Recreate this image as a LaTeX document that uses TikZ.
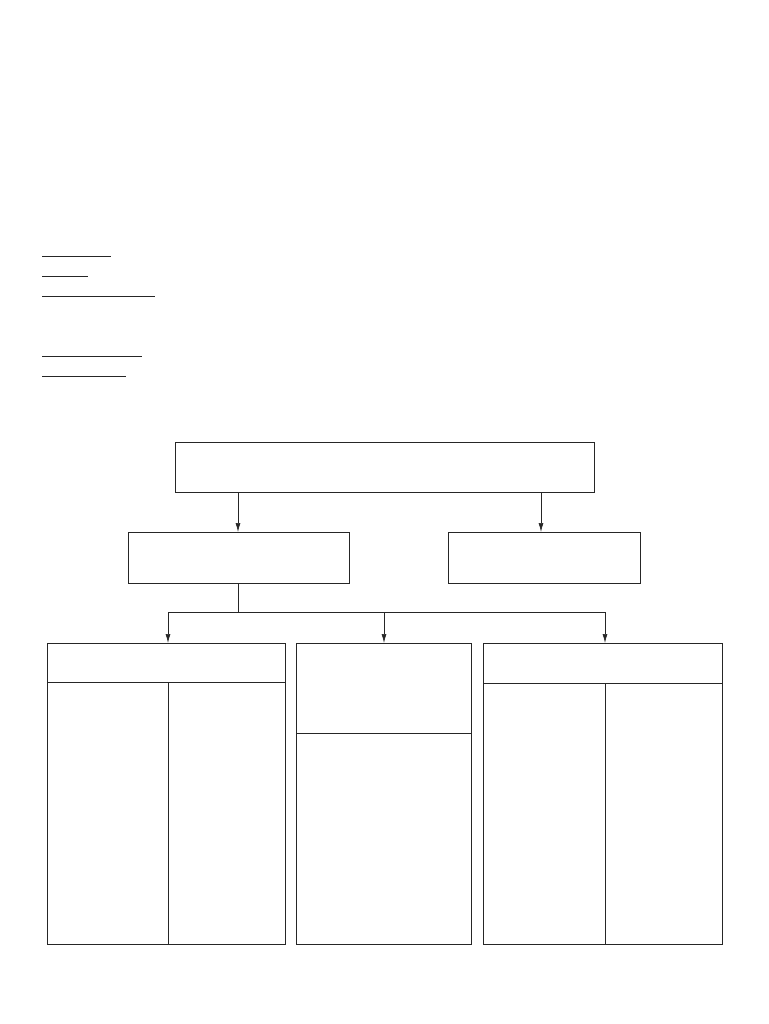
\documentclass[tikz,border=0pt]{standalone}
\usetikzlibrary{arrows.meta}
\begin{document}
\begin{tikzpicture}[x=1pt,y=-1pt,
  box/.style={draw=black!85,line width=0.9pt,inner sep=0pt,outer sep=0pt,rectangle},
  conn/.style={draw=black!85,line width=0.7pt},
  arr/.style={conn,-{Latex[length=9pt,width=5pt]}},
  blank/.style={draw=black!85,line width=0.9pt}]
\useasboundingbox (0,0) rectangle (768,1024);
\fill[white] (0,0) rectangle (768,1024);
% blank fields
\draw[blank] (42,256) -- (111,256);
\draw[blank] (42,276) -- (88,276);
\draw[blank] (42,296) -- (155,296);
\draw[blank] (42,356) -- (142,356);
\draw[blank] (42,376) -- (126,376);
% boxes
\node[box,minimum width=419pt,minimum height=50pt] (top) at (384.5,467) {};
\node[box,minimum width=221pt,minimum height=51pt] (ml) at (238.5,557.5) {};
\node[box,minimum width=192pt,minimum height=51pt] (mr) at (544,557.5) {};
\node[box,minimum width=238pt,minimum height=301pt] (bl) at (166,793.5) {};
\node[box,minimum width=175pt,minimum height=301pt] (bm) at (383.5,793.5) {};
\node[box,minimum width=239pt,minimum height=301pt] (br) at (602.5,793.5) {};
% dividers
\coordinate (blh1) at (47,682); \coordinate (blh2) at (285,682);
\draw[box] (blh1) -- (blh2);
\coordinate (blv) at (168,682);
\draw[conn] (blv) -- (blv |- bl.south);
\coordinate (bmh1) at (296,733); \coordinate (bmh2) at (471,733);
\draw[box] (bmh1) -- (bmh2);
\coordinate (brh1) at (483,683); \coordinate (brh2) at (722,683);
\draw[box] (brh1) -- (brh2);
\coordinate (brv) at (605,683);
\draw[conn] (brv) -- (brv |- br.south);
% connectors
\coordinate (t1) at (238,492);
\coordinate (t2) at (541,492);
\draw[arr] (t1) -- (t1 |- ml.north);
\draw[arr] (t2) -- (t2 |- mr.north);
\coordinate (j) at (238,612);
\coordinate (jl) at (168,612);
\coordinate (jm) at (384,612);
\coordinate (jr) at (605,612);
\draw[conn] (ml.south -| j) -- (j);
\draw[conn] (jl) -- (jr);
\draw[arr] (jl) -- (jl |- bl.north);
\draw[arr] (jm) -- (jm |- bm.north);
\draw[arr] (jr) -- (jr |- br.north);
\end{tikzpicture}
\end{document}
